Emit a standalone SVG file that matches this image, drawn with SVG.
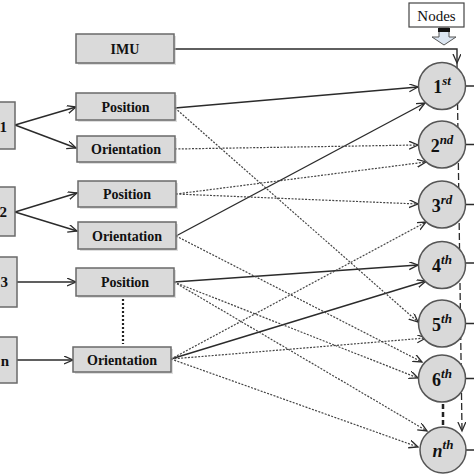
<svg xmlns="http://www.w3.org/2000/svg" width="474" height="474" viewBox="0 0 474 474">
<style>
.box{fill:#dadada;stroke:#6a6a6a;stroke-width:1.5}
.shadow{fill:#bdbdbd;opacity:0.5}
.lbl{font-family:"Liberation Serif",serif;font-weight:bold;font-size:14px;fill:#111;text-anchor:middle}
.side{font-family:"Liberation Serif",serif;font-weight:bold;font-size:15px;fill:#111;text-anchor:end}
.circ{fill:#d9d9d9;stroke:#555;stroke-width:1.5}
.num{font-family:"Liberation Serif",serif;font-weight:bold;font-size:18px;fill:#111;text-anchor:middle}
.sup{font-family:"Liberation Serif",serif;font-weight:bold;font-style:italic;font-size:13px}
.solid{stroke:#2b2b2b;stroke-width:1.4;fill:none;marker-end:url(#ah)}
.dot{stroke:#444;stroke-width:1.2;fill:none;stroke-dasharray:2 1.4;marker-end:url(#ah)}
.plain{stroke:#2b2b2b;stroke-width:1.4;fill:none}
</style>
<defs>
<marker id="ah" markerUnits="userSpaceOnUse" markerWidth="12" markerHeight="10" refX="9" refY="4" orient="auto">
<path d="M0,0 L9,4 L0,8" fill="none" stroke="#2b2b2b" stroke-width="1.3"/>
</marker>
</defs>
<rect width="474" height="474" fill="#fff"/>

<g id="connectors">
<path class="solid" d="M15,125 L76,107"/>
<path class="solid" d="M15,125 L76,148"/>
<path class="solid" d="M15,212 L77,193"/>
<path class="solid" d="M15,212 L77,231"/>
<path class="solid" d="M17,282 L76,282"/>
<path class="solid" d="M17,360 L73,360"/>
<path class="solid" d="M174,49 H457 V63"/>
<path d="M457,63 L462,431" fill="none" stroke="#2b2b2b" stroke-width="1.3" stroke-dasharray="7 3" marker-end="url(#ah)"/>
<path class="solid" d="M175,108 L418,87"/>
<path class="solid" d="M176,236 L425,103"/>
<path class="solid" d="M174,282 L418,265"/>
<path class="solid" d="M171,359 L426,281"/>
<path class="dot" d="M175,108 L418,322"/>
<path class="dot" d="M175,149 L418,145"/>
<path class="dot" d="M176,194 L426,162"/>
<path class="dot" d="M176,194 L418,204"/>
<path class="dot" d="M176,236 L422,362"/>
<path class="dot" d="M174,282 L418,378"/>
<path class="dot" d="M174,282 L427,431"/>
<path class="dot" d="M171,359 L426,222"/>
<path class="dot" d="M171,359 L426,338"/>
<path class="dot" d="M171,359 L418,447"/>
<path d="M123,299 V344" stroke="#222" stroke-width="2.2" stroke-dasharray="2 2" fill="none"/>
<path d="M443,404 V425" stroke="#222" stroke-width="2.5" stroke-dasharray="5 3" fill="none"/>
<path class="plain" d="M466,86 H474 M466,144.5 H474 M466,204.5 H474 M466,263 H474 M466,323.5 H474 M466,378.5 H474 M466,450 H474"/>
</g>

<g id="in1"><rect class="box" x="-10" y="102" width="25" height="47"/><text class="side" x="7" y="132">1</text></g>
<g id="in2"><rect class="box" x="-10" y="187" width="25" height="49"/><text class="side" x="7" y="217">2</text></g>
<g id="in3"><rect class="box" x="-10" y="257" width="27" height="50"/><text class="side" x="8" y="287">3</text></g>
<g id="inn"><rect class="box" x="-10" y="337" width="27" height="46"/><text class="side" x="9" y="366">n</text></g>

<g id="imu"><rect class="shadow" x="78" y="36" width="98" height="29"/><rect class="box" x="76" y="34" width="98" height="29"/><text class="lbl" x="125" y="53.5">IMU</text></g>
<g id="pos1"><rect class="shadow" x="78" y="95" width="99" height="27"/><rect class="box" x="76" y="93" width="99" height="27"/><text class="lbl" x="125.5" y="111.5">Position</text></g>
<g id="ori1"><rect class="shadow" x="79" y="138" width="98" height="26"/><rect class="box" x="77" y="136" width="98" height="26"/><text class="lbl" x="126" y="154">Orientation</text></g>
<g id="pos2"><rect class="shadow" x="80" y="183" width="98" height="26"/><rect class="box" x="78" y="181" width="98" height="26"/><text class="lbl" x="127" y="199">Position</text></g>
<g id="ori2"><rect class="shadow" x="80" y="224" width="98" height="27"/><rect class="box" x="78" y="222" width="98" height="27"/><text class="lbl" x="127" y="240.5">Orientation</text></g>
<g id="pos3"><rect class="shadow" x="78" y="270" width="98" height="28"/><rect class="box" x="76" y="268" width="98" height="28"/><text class="lbl" x="125" y="286.5">Position</text></g>
<g id="orin"><rect class="shadow" x="75" y="349" width="98" height="25"/><rect class="box" x="73" y="347" width="98" height="25"/><text class="lbl" x="122" y="364.5">Orientation</text></g>

<g id="nodes-label">
<rect x="409" y="3" width="55" height="24" fill="#fff" stroke="#444" stroke-width="1.2"/>
<text x="436.5" y="21" font-family="Liberation Serif,serif" font-size="15" text-anchor="middle" fill="#111">Nodes</text>
<path d="M439,28 H449 V37 H456 L444,45 L432,37 H439 Z" fill="#dce6f2" stroke="#555" stroke-width="1"/>
<rect x="438" y="28" width="12" height="4" fill="#111"/>
</g>

<g id="n1"><circle class="circ" cx="442" cy="86" r="23.5"/><text class="num" x="442" y="93">1<tspan class="sup" dy="-8">st</tspan></text></g>
<g id="n2"><circle class="circ" cx="442" cy="144.5" r="23.5"/><text class="num" x="442" y="151.5">2<tspan class="sup" dy="-8">nd</tspan></text></g>
<g id="n3"><circle class="circ" cx="442" cy="204.5" r="23.5"/><text class="num" x="442" y="211.5">3<tspan class="sup" dy="-8">rd</tspan></text></g>
<g id="n4"><circle class="circ" cx="442" cy="265" r="23.5"/><text class="num" x="442" y="272">4<tspan class="sup" dy="-8">th</tspan></text></g>
<g id="n5"><circle class="circ" cx="442" cy="323.5" r="23.5"/><text class="num" x="442" y="330.5">5<tspan class="sup" dy="-8">th</tspan></text></g>
<g id="n6"><circle class="circ" cx="442" cy="378.5" r="23.5"/><text class="num" x="442" y="385.5">6<tspan class="sup" dy="-8">th</tspan></text></g>
<g id="nn"><circle class="circ" cx="443" cy="450" r="23"/><text class="num" x="443" y="457" font-style="italic">n<tspan class="sup" dy="-8">th</tspan></text></g>
</svg>
